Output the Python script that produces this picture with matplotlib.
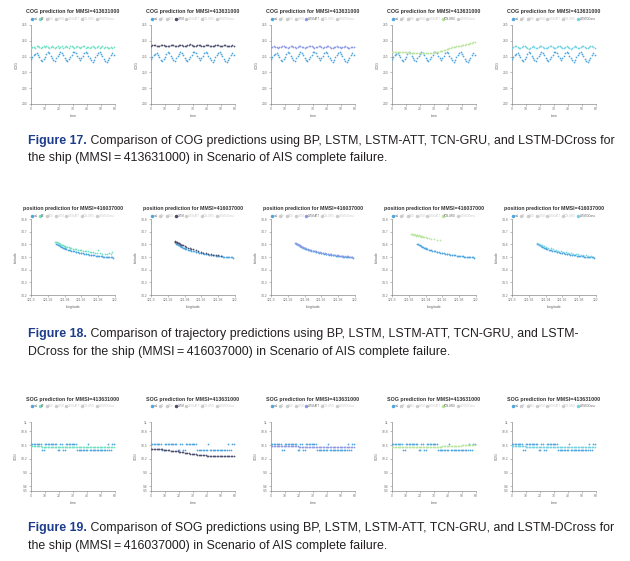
import matplotlib
matplotlib.use("Agg")
import matplotlib.pyplot as plt
from matplotlib.lines import Line2D
from matplotlib import font_manager

W, H = 630, 561

# ---------------- data ----------------
legend_labels = ["real", "BP", "GRU", "LSTM", "LSTM-ATT", "TCN-GRU", "LSTM-DCross"]
model_names = ["BP", "LSTM", "LSTM-ATT", "TCN-GRU", "LSTM-DCross"]

time_steps = list(range(60))

cog_real = [254.2, 254.8, 255.4, 255.9, 256.2, 255.6, 254.8, 254.0, 253.6, 254.3,
            255.0, 255.7, 256.3, 256.0, 255.3, 254.6, 254.0, 253.7, 254.4, 255.1,
            255.8, 256.3, 256.1, 255.4, 254.7, 254.0, 253.5, 254.1, 254.9, 255.6,
            256.4, 256.6, 256.0, 255.2, 254.5, 254.0, 254.6, 255.3, 256.0, 256.4,
            256.0, 255.3, 254.5, 253.8, 253.4, 254.0, 254.8, 255.5, 256.2, 256.5,
            255.9, 255.1, 254.3, 253.6, 253.2, 253.9, 254.7, 255.4, 256.0, 255.6]
cog_bp = [257.8, 258.1, 258.0, 257.7, 258.2, 258.3, 257.9, 257.6, 258.0, 258.2,
          257.9, 258.4, 258.1, 257.7, 257.9, 258.2, 258.0, 257.6, 258.1, 258.3,
          257.8, 257.9, 258.2, 257.7, 258.0, 258.4, 258.1, 257.8, 258.5, 258.2,
          257.9, 257.7, 258.1, 258.3, 257.9, 257.6, 258.0, 258.2, 258.4, 257.8,
          257.9, 258.1, 257.7, 258.0, 258.3, 257.9, 257.6, 258.1, 258.2, 257.8,
          258.0, 258.3, 257.7, 257.9, 258.1, 257.6, 257.8, 258.0, 257.7, 257.9]
cog_lstm = [258.5, 258.6, 258.7, 258.6, 258.4, 258.3, 258.4, 258.6, 258.8, 258.7,
            258.5, 258.4, 258.3, 258.5, 258.7, 258.8, 258.6, 258.4, 258.3, 258.5,
            258.7, 258.8, 258.6, 258.4, 258.3, 258.4, 258.6, 258.8, 258.9, 258.7,
            258.5, 258.3, 258.4, 258.6, 258.8, 258.7, 258.5, 258.3, 258.4, 258.6,
            258.8, 258.7, 258.5, 258.3, 258.2, 258.4, 258.6, 258.7, 258.6, 258.4,
            258.3, 258.4, 258.6, 258.7, 258.5, 258.3, 258.2, 258.4, 258.6, 258.5]
cog_att = [258.0, 258.1, 258.2, 258.1, 257.9, 257.8, 257.9, 258.1, 258.3, 258.2,
           258.0, 257.9, 257.8, 258.0, 258.2, 258.3, 258.1, 257.9, 257.8, 258.0,
           258.2, 258.3, 258.1, 257.9, 257.8, 257.9, 258.1, 258.3, 258.4, 258.2,
           258.0, 257.8, 257.9, 258.1, 258.3, 258.2, 258.0, 257.8, 257.9, 258.1,
           258.3, 258.2, 258.0, 257.8, 257.7, 257.9, 258.1, 258.2, 258.1, 257.9,
           257.8, 257.9, 258.1, 258.2, 258.0, 257.8, 257.7, 257.9, 258.1, 258.0]
cog_tcn = [256.6, 256.5, 256.5, 256.4, 256.4, 256.5, 256.4, 256.3, 256.3, 256.4,
           256.3, 256.2, 256.3, 256.2, 256.2, 256.1, 256.2, 256.1, 256.1, 256.0,
           256.1, 256.0, 256.0, 256.1, 256.0, 256.0, 256.1, 256.1, 256.2, 256.2,
           256.3, 256.4, 256.5, 256.6, 256.7, 256.8, 256.9, 257.0, 257.2, 257.3,
           257.5, 257.6, 257.8, 257.9, 258.0, 258.1, 258.2, 258.3, 258.4, 258.5,
           258.6, 258.7, 258.8, 258.9, 259.0, 259.1, 259.3, 259.4, 259.6, 259.5]
cog_dc = [257.6, 257.9, 258.2, 258.3, 258.0, 257.7, 257.6, 257.9, 258.2, 258.3,
          258.0, 257.7, 257.5, 257.8, 258.1, 258.3, 258.1, 257.8, 257.6, 257.9,
          258.2, 258.4, 258.1, 257.8, 257.6, 257.8, 258.1, 258.3, 258.2, 257.9,
          257.6, 257.7, 258.0, 258.3, 258.2, 257.9, 257.6, 257.8, 258.1, 258.3,
          258.0, 257.7, 257.5, 257.8, 258.1, 258.3, 258.1, 257.8, 257.6, 257.9,
          258.2, 258.3, 258.0, 257.7, 257.6, 257.9, 258.2, 258.2, 257.9, 257.7]
cog_preds = [cog_bp, cog_lstm, cog_att, cog_tcn, cog_dc]
cog_ticks = [240, 245, 250, 255, 260, 265]

lon_real = [121.930, 121.931, 121.932, 121.933, 121.934, 121.935, 121.936, 121.937, 121.938, 121.939,
            121.940, 121.941, 121.942, 121.944, 121.945, 121.947, 121.948, 121.950, 121.951, 121.953,
            121.954, 121.956, 121.957, 121.959, 121.960, 121.962, 121.963, 121.965, 121.966, 121.968,
            121.969, 121.971, 121.972, 121.974, 121.975, 121.977, 121.978, 121.980, 121.981, 121.983,
            121.984, 121.986, 121.987, 121.989, 121.990, 121.992, 121.993, 121.995, 121.996, 121.998]
lat_real = [34.605, 34.600, 34.596, 34.592, 34.588, 34.584, 34.580, 34.577, 34.574, 34.571,
            34.568, 34.565, 34.562, 34.558, 34.555, 34.552, 34.550, 34.546, 34.544, 34.541,
            34.539, 34.536, 34.534, 34.532, 34.530, 34.528, 34.526, 34.524, 34.522, 34.520,
            34.519, 34.517, 34.516, 34.514, 34.513, 34.511, 34.510, 34.508, 34.507, 34.506,
            34.505, 34.503, 34.502, 34.501, 34.500, 34.499, 34.498, 34.497, 34.497, 34.496]
lon_bp = [121.929, 121.930, 121.931, 121.932, 121.933, 121.934, 121.935, 121.936, 121.937, 121.938,
          121.939, 121.940, 121.942, 121.943, 121.945, 121.946, 121.948, 121.950, 121.952, 121.954,
          121.956, 121.958, 121.960, 121.962, 121.964, 121.966, 121.968, 121.970, 121.972, 121.974,
          121.976, 121.978, 121.980, 121.982, 121.985, 121.988, 121.991, 121.993, 121.995, 121.997]
lat_bp = [34.622, 34.618, 34.615, 34.611, 34.608, 34.604, 34.601, 34.598, 34.595, 34.592,
          34.589, 34.586, 34.582, 34.579, 34.576, 34.573, 34.570, 34.567, 34.564, 34.561,
          34.558, 34.556, 34.553, 34.551, 34.549, 34.546, 34.544, 34.541, 34.539, 34.537,
          34.535, 34.533, 34.556, 34.529, 34.527, 34.525, 34.523, 34.535, 34.521, 34.540]
lon_lstm = [121.928, 121.929, 121.929, 121.930, 121.931, 121.931, 121.932, 121.933, 121.934, 121.935,
            121.936, 121.937, 121.938, 121.940, 121.942, 121.944, 121.946, 121.948, 121.950, 121.953,
            121.956, 121.959, 121.962, 121.965, 121.968, 121.971, 121.974, 121.977, 121.980, 121.983]
lat_lstm = [34.626, 34.622, 34.619, 34.620, 34.616, 34.613, 34.612, 34.608, 34.605, 34.601,
            34.598, 34.594, 34.591, 34.585, 34.580, 34.575, 34.570, 34.565, 34.560, 34.553,
            34.546, 34.540, 34.535, 34.530, 34.526, 34.522, 34.518, 34.515, 34.512, 34.509]
lon_att = [121.929, 121.930, 121.931, 121.932, 121.933, 121.934, 121.935, 121.936, 121.937, 121.938,
           121.940, 121.941, 121.943, 121.944, 121.946, 121.948, 121.950, 121.952, 121.954, 121.956,
           121.958, 121.960, 121.962, 121.964, 121.966, 121.968, 121.970, 121.972, 121.974, 121.976,
           121.978, 121.980, 121.982, 121.984, 121.986, 121.988, 121.990, 121.992, 121.994, 121.996]
lat_att = [34.612, 34.608, 34.604, 34.600, 34.596, 34.592, 34.588, 34.585, 34.582, 34.579,
           34.573, 34.570, 34.565, 34.562, 34.558, 34.554, 34.550, 34.547, 34.544, 34.541,
           34.538, 34.535, 34.532, 34.530, 34.527, 34.525, 34.523, 34.521, 34.519, 34.517,
           34.515, 34.513, 34.511, 34.510, 34.508, 34.507, 34.506, 34.504, 34.503, 34.502]
lon_tcn = [121.923, 121.924, 121.925, 121.926, 121.927, 121.928, 121.929, 121.930, 121.931, 121.932,
           121.933, 121.934, 121.935, 121.936, 121.937, 121.938, 121.940, 121.942, 121.944, 121.947,
           121.950, 121.954, 121.957]
lat_tcn = [34.678, 34.682, 34.675, 34.679, 34.672, 34.676, 34.669, 34.673, 34.666, 34.670,
           34.663, 34.667, 34.660, 34.664, 34.657, 34.661, 34.655, 34.651, 34.648, 34.645,
           34.642, 34.637, 34.633]
lon_dc = [121.930, 121.932, 121.934, 121.936, 121.938, 121.940, 121.943, 121.946, 121.949, 121.952,
          121.955, 121.958, 121.961, 121.964, 121.967, 121.970, 121.973, 121.976, 121.979, 121.982,
          121.985, 121.988, 121.991, 121.994]
lat_dc = [34.610, 34.603, 34.597, 34.591, 34.586, 34.581, 34.574, 34.568, 34.562, 34.556,
          34.551, 34.546, 34.541, 34.537, 34.533, 34.529, 34.526, 34.523, 34.520, 34.517,
          34.514, 34.512, 34.510, 34.508]
pos_preds = [(lon_bp, lat_bp), (lon_lstm, lat_lstm), (lon_att, lat_att), (lon_tcn, lat_tcn), (lon_dc, lat_dc)]
lon_ticks = [121.9, 121.92, 121.94, 121.96, 121.98, 122.0]
lon_tick_labels = ["121.9", "121.92", "121.94", "121.96", "121.98", "122"]
lat_ticks = [34.2, 34.3, 34.4, 34.5, 34.6, 34.7, 34.8]

sog_real = [10.52, 10.52, 10.52, 10.52, 10.52, 10.52, 10.52, 10.52, 10.40, 10.40,
            10.52, 10.52, 10.52, 10.52, 10.52, 10.52, 10.52, 10.52, 10.52, 10.40,
            10.40, 10.52, 10.52, 10.40, 10.40, 10.52, 10.52, 10.52, 10.52, 10.52,
            10.52, 10.52, 10.52, 10.40, 10.40, 10.40, 10.40, 10.40, 10.40, 10.40,
            10.40, 10.52, 10.40, 10.40, 10.40, 10.40, 10.40, 10.40, 10.40, 10.40,
            10.40, 10.40, 10.40, 10.40, 10.40, 10.52, 10.40, 10.40, 10.52, 10.52]
sog_bp = [10.47, 10.47, 10.47, 10.47, 10.47, 10.47, 10.47, 10.47, 10.46, 10.46,
          10.46, 10.46, 10.46, 10.46, 10.46, 10.46, 10.46, 10.46, 10.46, 10.46,
          10.46, 10.46, 10.46, 10.46, 10.46, 10.46, 10.46, 10.46, 10.46, 10.46,
          10.46, 10.46, 10.46, 10.46, 10.45, 10.45, 10.45, 10.45, 10.45, 10.45,
          10.45, 10.45, 10.45, 10.45, 10.45, 10.45, 10.45, 10.45, 10.45, 10.45,
          10.45, 10.45, 10.45, 10.45, 10.45, 10.45, 10.45, 10.45, 10.45, 10.45]
sog_lstm = [10.42, 10.42, 10.42, 10.42, 10.42, 10.42, 10.41, 10.41, 10.41, 10.40,
            10.40, 10.40, 10.39, 10.39, 10.38, 10.38, 10.37, 10.37, 10.36, 10.36,
            10.35, 10.35, 10.34, 10.34, 10.33, 10.33, 10.32, 10.32, 10.31, 10.31,
            10.30, 10.30, 10.30, 10.29, 10.29, 10.29, 10.28, 10.28, 10.28, 10.28,
            10.27, 10.27, 10.27, 10.27, 10.27, 10.27, 10.27, 10.27, 10.27, 10.27,
            10.27, 10.27, 10.26, 10.26, 10.26, 10.26, 10.26, 10.26, 10.26, 10.26]
sog_att = [10.48, 10.48, 10.48, 10.48, 10.48, 10.48, 10.48, 10.47, 10.47, 10.47,
           10.47, 10.47, 10.47, 10.47, 10.47, 10.47, 10.47, 10.47, 10.47, 10.47,
           10.46, 10.46, 10.46, 10.46, 10.46, 10.46, 10.46, 10.46, 10.46, 10.46,
           10.46, 10.46, 10.46, 10.46, 10.46, 10.46, 10.46, 10.45, 10.45, 10.45,
           10.45, 10.45, 10.45, 10.45, 10.45, 10.45, 10.45, 10.45, 10.45, 10.45,
           10.45, 10.45, 10.45, 10.45, 10.45, 10.45, 10.45, 10.45, 10.45, 10.45]
sog_tcn = [10.46, 10.46, 10.46, 10.46, 10.46, 10.46, 10.46, 10.46, 10.46, 10.46,
           10.46, 10.46, 10.46, 10.46, 10.46, 10.46, 10.46, 10.46, 10.46, 10.46,
           10.46, 10.46, 10.46, 10.46, 10.46, 10.46, 10.46, 10.46, 10.46, 10.46,
           10.46, 10.46, 10.46, 10.46, 10.46, 10.46, 10.47, 10.47, 10.47, 10.47,
           10.47, 10.47, 10.47, 10.47, 10.48, 10.48, 10.48, 10.48, 10.48, 10.48,
           10.49, 10.49, 10.49, 10.49, 10.49, 10.50, 10.50, 10.50, 10.50, 10.50]
sog_dc = [10.47, 10.47, 10.47, 10.47, 10.47, 10.47, 10.47, 10.47, 10.47, 10.47,
          10.46, 10.46, 10.46, 10.46, 10.46, 10.46, 10.46, 10.46, 10.46, 10.46,
          10.46, 10.46, 10.46, 10.46, 10.46, 10.46, 10.46, 10.46, 10.46, 10.46,
          10.46, 10.46, 10.46, 10.46, 10.46, 10.46, 10.46, 10.46, 10.46, 10.46,
          10.46, 10.46, 10.46, 10.46, 10.46, 10.46, 10.46, 10.46, 10.46, 10.46,
          10.46, 10.46, 10.46, 10.46, 10.46, 10.46, 10.46, 10.46, 10.46, 10.46]
sog_preds = [sog_bp, sog_lstm, sog_att, sog_tcn, sog_dc]
sog_ticks = [9.5, 9.6, 9.9, 10.2, 10.5, 10.8, 11.0]
sog_tick_labels = ["9.5", "9.6", "9.9", "10.2", "10.5", "10.8", "11"]
time_ticks = [0, 10, 20, 30, 40, 50, 60]

captions = [
    ("Figure 17.", " Comparison of COG predictions using BP, LSTM, LSTM-ATT, TCN-GRU, and LSTM-DCross for",
     "the ship (MMSI\u2009=\u2009413631000) in Scenario of AIS complete failure."),
    ("Figure 18.", " Comparison of trajectory predictions using BP, LSTM, LSTM-ATT, TCN-GRU, and LSTM-",
     "DCross for the ship (MMSI\u2009=\u2009416037000) in Scenario of AIS complete failure."),
    ("Figure 19.", " Comparison of SOG predictions using BP, LSTM, LSTM-ATT, TCN-GRU, and LSTM-DCross for",
     "the ship (MMSI\u2009=\u2009416037000) in Scenario of AIS complete failure."),
]

# ---------------- style ----------------
real_color = "#4ea6e0"
model_colors = ["#6fe0c2", "#4c4f6e", "#8f9ae6", "#b8e49c", "#72d3e3"]
legend_active_idx = [1, 3, 4, 5, 6]

names = {f.name for f in font_manager.fontManager.ttflist}
cap_font = "Liberation Sans Narrow" if "Liberation Sans Narrow" in names else "Liberation Sans"
chart_font = "Liberation Sans"

fig = plt.figure(figsize=(W / 100, H / 100), dpi=100)
fig.patch.set_facecolor("white")

col_left = [31, 151, 271, 392, 512]
ax_w = 84
rows = [
    dict(top=25, bot=104, title_y=11, leg_y=19),
    dict(top=219, bot=295, title_y=208, leg_y=216),
    dict(top=422, bot=491, title_y=399, leg_y=406),
]


def style_ax(ax):
    for s in ["top", "right"]:
        ax.spines[s].set_visible(False)
    for s in ["left", "bottom"]:
        ax.spines[s].set_color("#8a8a8a")
        ax.spines[s].set_linewidth(0.5)
    ax.tick_params(length=1.5, width=0.4, color="#8a8a8a", labelsize=2.4,
                   labelcolor="#777777", pad=1)
    for lab in ax.get_xticklabels() + ax.get_yticklabels():
        lab.set_family(chart_font)


def add_legend(k, leg_y, cx):
    handles = []
    for i, lab in enumerate(legend_labels):
        if i == 0:
            c = real_color
        elif i == legend_active_idx[k]:
            c = model_colors[k]
        else:
            c = "#cccccc"
        handles.append(Line2D([], [], ls="none", marker="o", ms=1.5, mfc=c, mec=c))
    leg = fig.legend(handles, legend_labels, loc="center", bbox_to_anchor=(cx, 1 - leg_y / H),
                     ncol=7, fontsize=1.8, frameon=False, handlelength=0.6, handletextpad=0.25,
                     columnspacing=0.6, borderpad=0, borderaxespad=0)
    for i, t in enumerate(leg.get_texts()):
        active = i == 0 or i == legend_active_idx[k]
        t.set_color("#555555" if active else "#c4c4c4")
        t.set_family(chart_font)


for r, row in enumerate(rows):
    for k in range(5):
        l = col_left[k]
        ax = fig.add_axes([l / W, 1 - row["bot"] / H, ax_w / W, (row["bot"] - row["top"]) / H])
        cx = (l + ax_w / 2) / W
        if r == 0:
            ax.scatter(time_steps, cog_real, s=1.6, color=real_color, lw=0, zorder=3)
            ax.scatter(time_steps, cog_preds[k], s=1.6, color=model_colors[k], lw=0, zorder=3)
            ax.set_xlim(0, 60)
            ax.set_ylim(240, 265)
            ax.set_xticks(time_ticks)
            ax.set_yticks(cog_ticks)
            ax.set_xlabel("time", fontsize=2.6, color="#666666", labelpad=2, family=chart_font)
            ax.set_ylabel("COG", fontsize=2.6, color="#666666", labelpad=2, family=chart_font)
            title = "COG prediction for MMSI=413631000"
            tsize = 3.8
        elif r == 1:
            ax.scatter(lon_real, lat_real, s=1.6, color=real_color, lw=0, zorder=3)
            ax.scatter(pos_preds[k][0], pos_preds[k][1], s=1.6, color=model_colors[k], lw=0, zorder=4)
            ax.set_xlim(121.9, 122.0)
            ax.set_ylim(34.2, 34.8)
            ax.set_xticks(lon_ticks)
            ax.set_xticklabels(lon_tick_labels)
            ax.set_yticks(lat_ticks)
            ax.set_xlabel("longitude", fontsize=2.6, color="#666666", labelpad=2, family=chart_font)
            ax.set_ylabel("latitude", fontsize=2.6, color="#666666", labelpad=2, family=chart_font)
            title = "position prediction for MMSI=416037000"
            tsize = 3.7
        else:
            ax.scatter(time_steps, sog_real, s=1.6, color=real_color, lw=0, zorder=3)
            ax.scatter(time_steps, sog_preds[k], s=1.6, color=model_colors[k], lw=0, zorder=3)
            ax.set_xlim(0, 60)
            ax.set_ylim(9.5, 11.0)
            ax.set_xticks(time_ticks)
            ax.set_yticks(sog_ticks)
            ax.set_yticklabels(sog_tick_labels)
            ax.set_xlabel("time", fontsize=2.6, color="#666666", labelpad=2, family=chart_font)
            ax.set_ylabel("SOG", fontsize=2.6, color="#666666", labelpad=2, family=chart_font)
            title = "SOG prediction for MMSI=413631000"
            tsize = 3.8
        style_ax(ax)
        fig.text(cx, 1 - row["title_y"] / H, title, ha="center", va="center",
                 fontsize=tsize, weight="bold", color="#333333", family=chart_font)
        add_legend(k, row["leg_y"], cx)

# ---------------- captions ----------------
fig.canvas.draw()
renderer = fig.canvas.get_renderer()
probe = fig.text(0, 0, captions[0][0] + captions[0][1], fontsize=10, weight="normal", family=cap_font)
pw = probe.get_window_extent(renderer).width
probe.remove()
cap_size = 10 * 584 / pw

cap_y = [(144, 161), (337, 355), (531, 549)]
x0 = 28
for (bold, rest, line2), (y1, y2) in zip(captions, cap_y):
    tb = fig.text(x0 / W, 1 - y1 / H, bold, fontsize=cap_size, weight="bold", color="#1d3c8c",
                  family=cap_font, va="baseline")
    bb = tb.get_window_extent(renderer)
    fig.text(bb.x1 / W, 1 - y1 / H, rest, fontsize=cap_size, color="#231f20",
             family=cap_font, va="baseline")
    fig.text(x0 / W, 1 - y2 / H, line2, fontsize=cap_size, color="#231f20",
             family=cap_font, va="baseline")

fig.savefig("out.png", dpi=100, facecolor="white")
